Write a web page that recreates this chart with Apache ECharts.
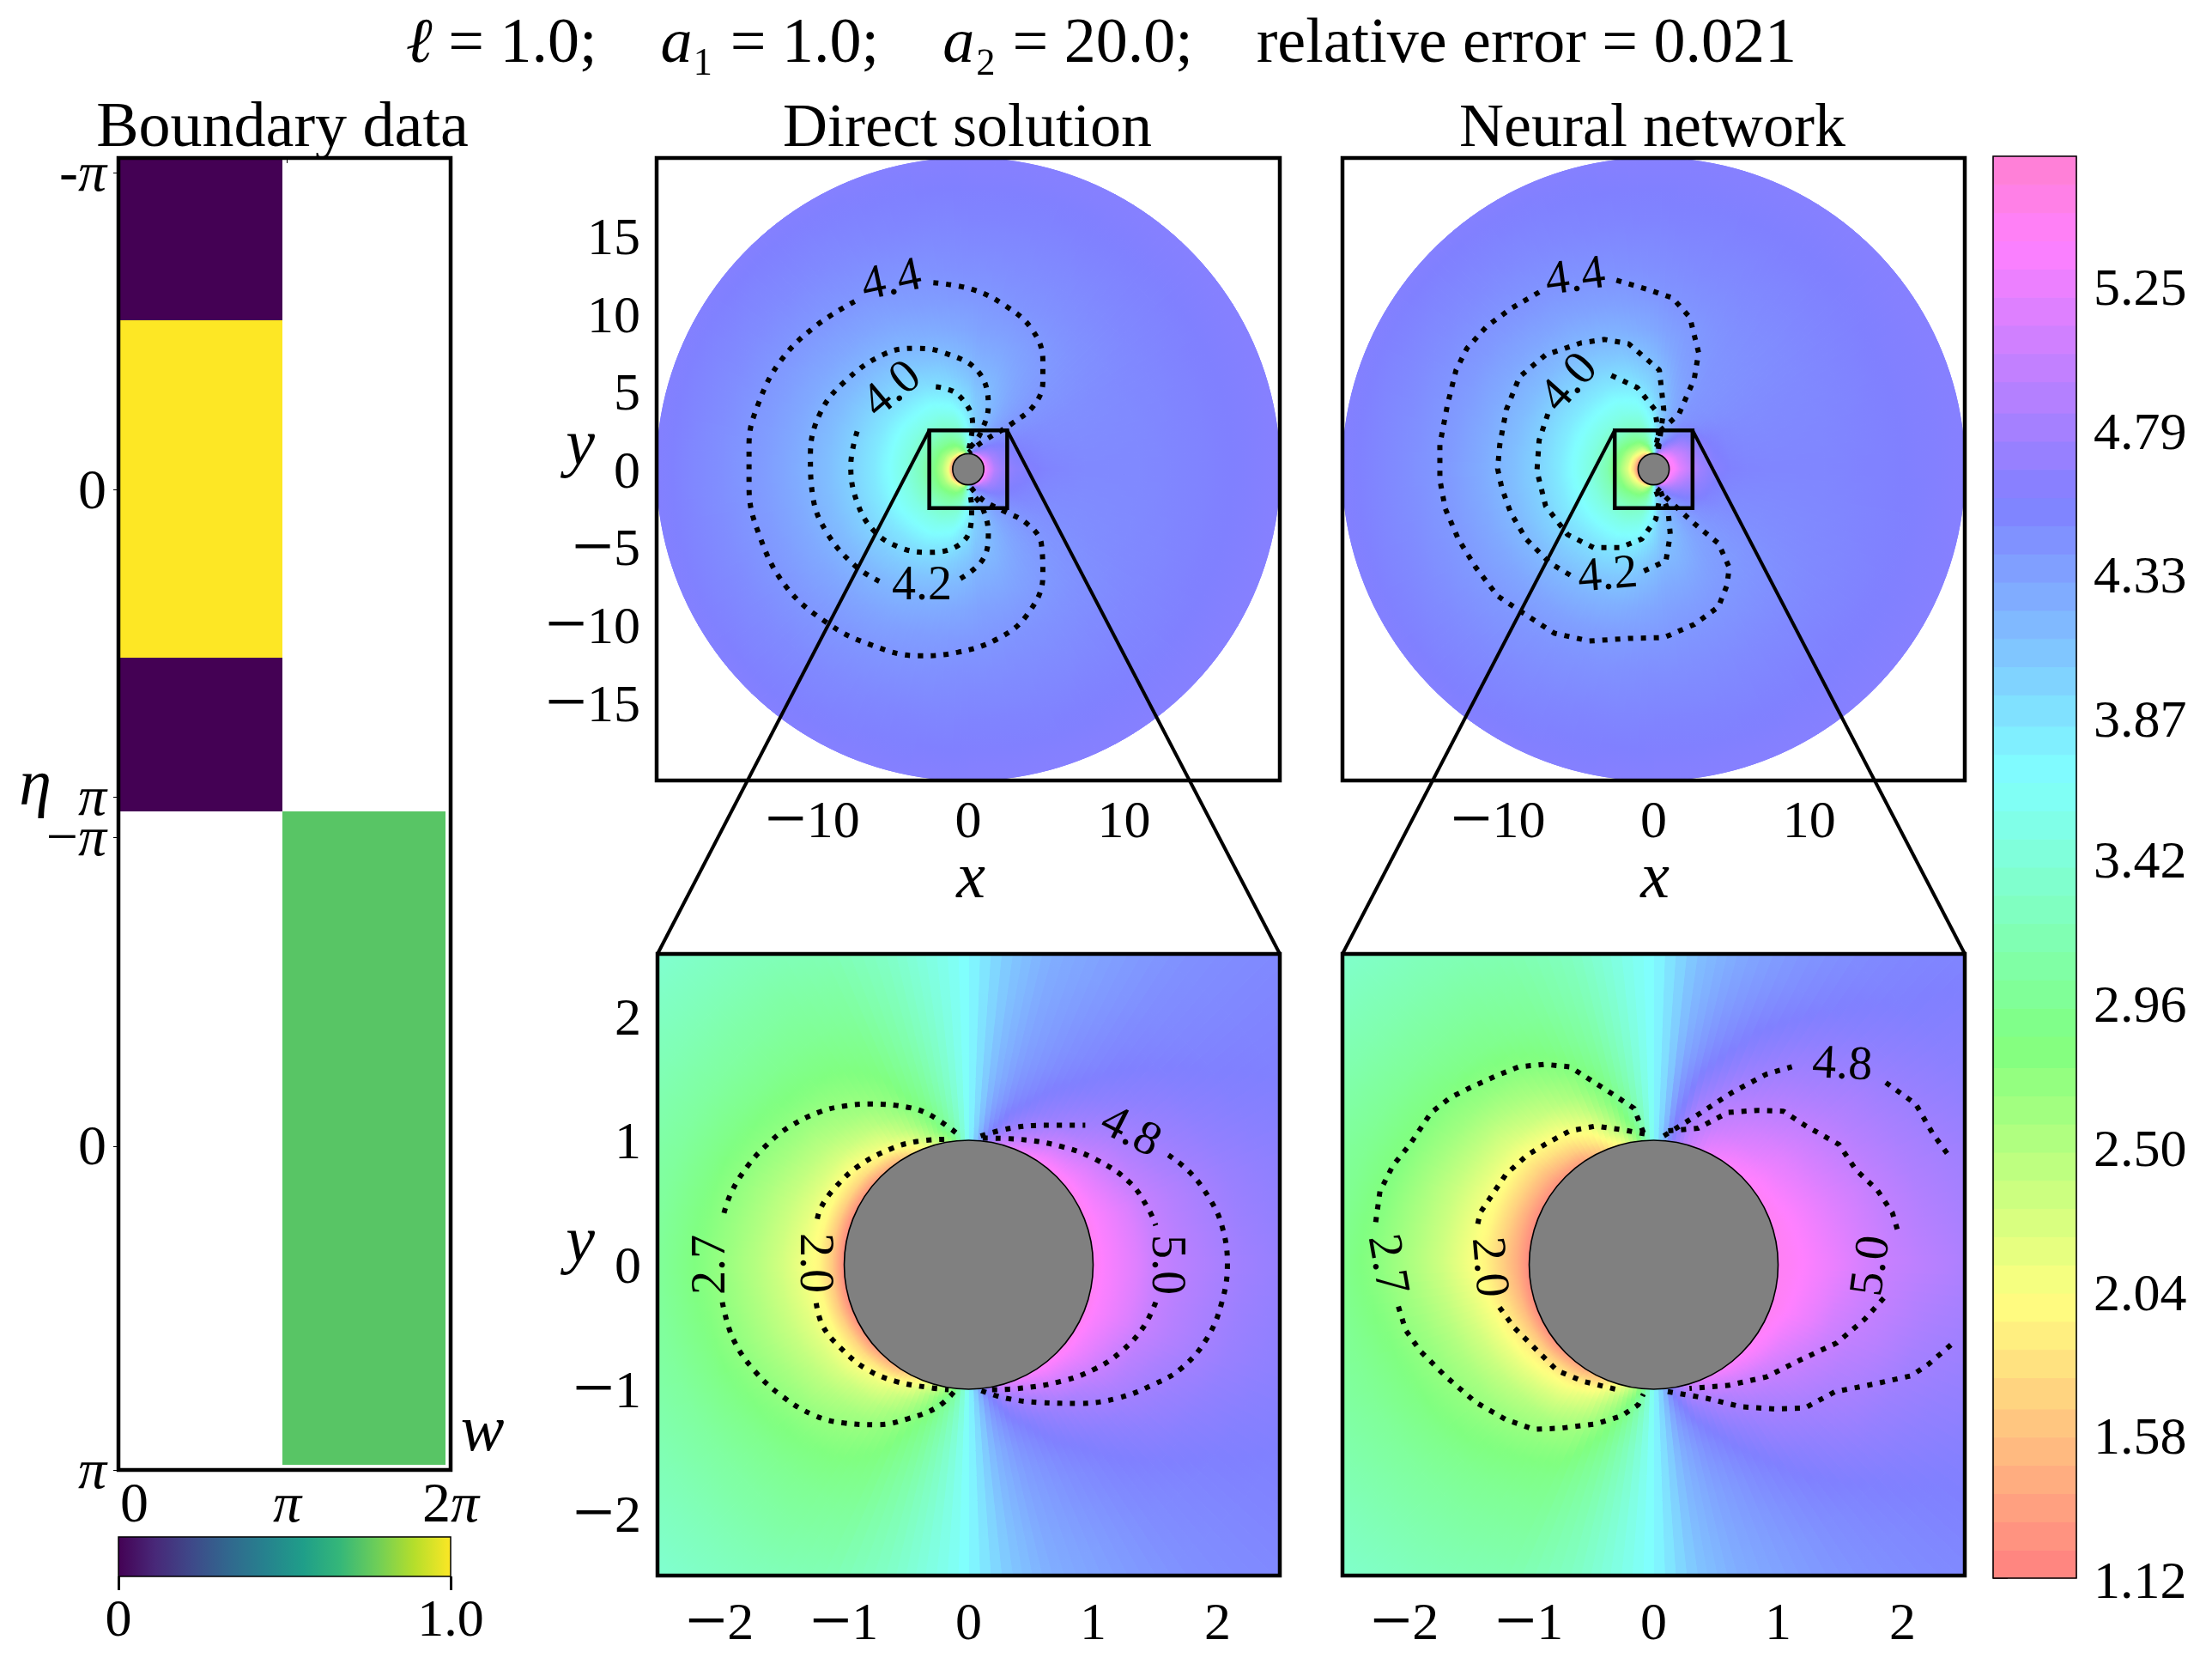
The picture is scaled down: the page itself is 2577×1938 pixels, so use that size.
<!DOCTYPE html>
<html>
<head>
<meta charset="utf-8">
<style>html,body{margin:0;padding:0;background:#fff}#main{width:2577px;height:1938px}</style>
<script src="https://cdn.jsdelivr.net/npm/echarts@6/dist/echarts.min.js"></script>
</head>
<body>
<div id="main"></div>
<script>
'use strict';
const FONT = '"Liberation Serif"';

// colour maps
const fieldStopValues = [1.12, 1.57, 2.01, 2.42, 2.83, 3.25, 3.68, 4.12, 4.56, 4.97, 5.38, 5.66];
const fieldStopColors = ['#ff8080', '#ffc080', '#ffff80', '#c0ff80', '#80ff80', '#80ffc0', '#80ffff', '#80c0ff', '#8080ff', '#c080ff', '#ff80ff', '#ff80d0'];
const viridisStops = ['#440154', '#482878', '#3e4989', '#31688e', '#26828e', '#1f9e89', '#35b779', '#6ece58', '#b5de2b', '#fde725'];

// colourbar
const cbarLevels = [1.12, 1.21, 1.30, 1.39, 1.48, 1.57, 1.66, 1.76, 1.85, 1.94, 2.03, 2.12, 2.21, 2.30, 2.39, 2.48, 2.57, 2.66, 2.75, 2.85, 2.94, 3.03, 3.12, 3.21, 3.30, 3.39, 3.48, 3.57, 3.66, 3.75, 3.84, 3.94, 4.03, 4.12, 4.21, 4.30, 4.39, 4.48, 4.57, 4.66, 4.75, 4.84, 4.94, 5.03, 5.12, 5.21, 5.30, 5.39, 5.48, 5.57, 5.66];
const cbarTicks = [1.12, 1.58, 2.04, 2.50, 2.96, 3.42, 3.87, 4.33, 4.79, 5.25];

// boundary image: [column from, column to, row from, row to, value]
const boundaryBlocks = [
  [0, 191, 0, 189, 0],
  [0, 191, 189, 582, 1],
  [0, 191, 582, 761, 0],
  [191, 381, 761, 1522, 0.735]
];
const boundaryXTicks = [18.6, 196.5, 387];
const boundaryXLabels = ['0', 'π', '2π'];
const boundaryYTicks = [17, 386.5, 744, 791, 1151, 1528];
const boundaryYLabels = ['-π', '0', 'π', '−π', '0', 'π'];

const diskTicksY = [-15, -10, -5, 0, 5, 10, 15];
const diskTicksX = [-10, 0, 10];
const zoomTicks = [-2, -1, 0, 1, 2];

// polar samples, one row per angle, one value per ring
const zoomRings = [1, 1.1, 1.2, 1.35, 1.5, 1.7, 1.9, 2.2, 2.5, 2.9, 3.6];
const zoomAngles = [0, 20, 40, 55, 65, 75, 82, 86, 90, 94, 98, 105, 115, 125, 140, 160, 180];
const directZoomField = [
  [5.45, 5.35, 5.28, 5.17, 5.02, 4.93, 4.86, 4.76, 4.70, 4.65, 4.60],
  [5.45, 5.35, 5.27, 5.15, 5.00, 4.90, 4.82, 4.72, 4.66, 4.60, 4.57],
  [5.45, 5.30, 5.18, 5.00, 4.88, 4.76, 4.68, 4.60, 4.55, 4.53, 4.52],
  [5.40, 5.20, 5.00, 4.80, 4.70, 4.60, 4.55, 4.50, 4.47, 4.45, 4.45],
  [5.30, 5.00, 4.82, 4.66, 4.58, 4.50, 4.45, 4.40, 4.36, 4.34, 4.34],
  [5.10, 4.78, 4.62, 4.50, 4.42, 4.36, 4.32, 4.28, 4.25, 4.22, 4.20],
  [4.70, 4.45, 4.36, 4.28, 4.22, 4.17, 4.14, 4.10, 4.08, 4.07, 4.07],
  [4.20, 4.10, 4.05, 4.00, 3.98, 3.96, 3.94, 3.92, 3.92, 3.92, 3.96],
  [3.70, 3.70, 3.70, 3.70, 3.70, 3.70, 3.70, 3.70, 3.70, 3.74, 3.90],
  [3.20, 3.30, 3.35, 3.42, 3.46, 3.50, 3.52, 3.55, 3.57, 3.62, 3.75],
  [2.70, 3.00, 3.12, 3.20, 3.26, 3.32, 3.36, 3.42, 3.47, 3.52, 3.68],
  [2.30, 2.65, 2.80, 2.93, 3.00, 3.08, 3.15, 3.22, 3.28, 3.37, 3.55],
  [1.85, 2.20, 2.45, 2.66, 2.76, 2.85, 2.92, 3.02, 3.10, 3.22, 3.42],
  [1.50, 1.95, 2.20, 2.45, 2.62, 2.74, 2.84, 2.96, 3.05, 3.18, 3.38],
  [1.30, 1.75, 2.02, 2.28, 2.46, 2.64, 2.78, 2.93, 3.05, 3.18, 3.38],
  [1.20, 1.65, 1.98, 2.20, 2.36, 2.53, 2.68, 2.87, 3.02, 3.16, 3.35],
  [1.20, 1.65, 1.95, 2.13, 2.30, 2.48, 2.63, 2.83, 3.00, 3.15, 3.35]
];
const neuralZoomUpper = [
  [5.45, 5.42, 5.38, 5.30, 5.22, 5.10, 5.01, 4.93, 4.85, 4.75, 4.65],
  [5.45, 5.40, 5.35, 5.26, 5.17, 5.07, 4.97, 4.86, 4.79, 4.70, 4.62],
  [5.42, 5.35, 5.27, 5.18, 5.08, 4.97, 4.88, 4.78, 4.68, 4.60, 4.55],
  [5.35, 5.25, 5.15, 5.05, 4.95, 4.85, 4.76, 4.65, 4.56, 4.50, 4.47],
  [5.25, 5.15, 5.05, 4.95, 4.85, 4.73, 4.63, 4.52, 4.44, 4.38, 4.36],
  [5.00, 4.95, 4.85, 4.75, 4.65, 4.52, 4.44, 4.35, 4.28, 4.24, 4.20],
  [4.60, 4.55, 4.50, 4.42, 4.36, 4.28, 4.22, 4.16, 4.12, 4.10, 4.10],
  [4.10, 4.10, 4.05, 4.02, 4.00, 3.98, 3.96, 3.94, 3.93, 3.93, 3.98],
  [3.70, 3.70, 3.70, 3.70, 3.70, 3.70, 3.70, 3.70, 3.70, 3.74, 3.90],
  [3.10, 3.22, 3.30, 3.38, 3.44, 3.48, 3.52, 3.56, 3.58, 3.63, 3.75],
  [2.60, 2.85, 3.00, 3.12, 3.20, 3.28, 3.34, 3.40, 3.45, 3.52, 3.66],
  [2.05, 2.38, 2.58, 2.78, 2.90, 3.00, 3.08, 3.17, 3.24, 3.34, 3.52],
  [1.65, 1.90, 2.10, 2.37, 2.58, 2.76, 2.88, 3.00, 3.08, 3.20, 3.40],
  [1.35, 1.65, 1.88, 2.15, 2.40, 2.60, 2.76, 2.93, 3.03, 3.16, 3.36],
  [1.25, 1.50, 1.72, 2.00, 2.22, 2.45, 2.65, 2.86, 3.00, 3.14, 3.34],
  [1.20, 1.45, 1.68, 1.97, 2.14, 2.36, 2.54, 2.80, 2.95, 3.10, 3.30],
  [1.20, 1.45, 1.65, 1.93, 2.10, 2.32, 2.50, 2.74, 2.92, 3.08, 3.28]
];
const neuralZoomLower = [
  [5.45, 5.42, 5.38, 5.30, 5.22, 5.10, 5.01, 4.93, 4.85, 4.75, 4.65],
  [5.45, 5.40, 5.33, 5.22, 5.08, 4.98, 4.92, 4.80, 4.74, 4.67, 4.60],
  [5.42, 5.30, 5.15, 5.00, 4.92, 4.82, 4.76, 4.67, 4.60, 4.55, 4.52],
  [5.35, 5.15, 4.98, 4.85, 4.76, 4.68, 4.60, 4.53, 4.48, 4.45, 4.44],
  [5.25, 5.00, 4.85, 4.72, 4.62, 4.53, 4.47, 4.41, 4.37, 4.35, 4.34],
  [5.00, 4.80, 4.66, 4.52, 4.44, 4.37, 4.32, 4.28, 4.25, 4.22, 4.20],
  [4.60, 4.48, 4.38, 4.30, 4.24, 4.19, 4.16, 4.12, 4.09, 4.08, 4.08],
  [4.10, 4.08, 4.04, 4.00, 3.98, 3.96, 3.94, 3.92, 3.92, 3.92, 3.95],
  [3.70, 3.70, 3.70, 3.70, 3.70, 3.70, 3.70, 3.70, 3.70, 3.74, 3.90],
  [3.10, 3.25, 3.32, 3.40, 3.45, 3.50, 3.53, 3.56, 3.58, 3.63, 3.75],
  [2.60, 2.90, 3.05, 3.16, 3.24, 3.30, 3.36, 3.42, 3.46, 3.52, 3.66],
  [2.10, 2.45, 2.65, 2.84, 2.95, 3.05, 3.12, 3.20, 3.26, 3.35, 3.52],
  [1.65, 2.00, 2.25, 2.50, 2.66, 2.80, 2.90, 3.00, 3.08, 3.20, 3.40],
  [1.40, 1.80, 2.05, 2.32, 2.55, 2.72, 2.84, 2.96, 3.05, 3.16, 3.36],
  [1.25, 1.65, 1.95, 2.20, 2.42, 2.62, 2.75, 2.90, 3.02, 3.14, 3.34],
  [1.20, 1.55, 1.80, 2.08, 2.28, 2.50, 2.66, 2.84, 2.97, 3.10, 3.30],
  [1.20, 1.45, 1.65, 1.93, 2.10, 2.32, 2.50, 2.74, 2.92, 3.08, 3.28]
];

const diskRings = [1, 1.3, 1.7, 2.2, 3, 4, 5, 6, 7.5, 9, 11, 13, 16, 20];
const diskAngles = [0, 30, 45, 60, 75, 85, 90, 95, 105, 120, 150, 180];
const directDiskField = [
  [5.45, 5.20, 4.90, 4.74, 4.63, 4.58, 4.54, 4.52, 4.50, 4.50, 4.50, 4.52, 4.55, 4.60],
  [5.45, 5.10, 4.80, 4.66, 4.55, 4.50, 4.47, 4.46, 4.46, 4.47, 4.49, 4.51, 4.55, 4.60],
  [5.42, 4.95, 4.70, 4.56, 4.46, 4.41, 4.40, 4.40, 4.41, 4.43, 4.46, 4.50, 4.54, 4.60],
  [5.35, 4.75, 4.50, 4.38, 4.30, 4.28, 4.29, 4.31, 4.34, 4.38, 4.44, 4.48, 4.54, 4.60],
  [5.00, 4.45, 4.30, 4.20, 4.12, 4.12, 4.15, 4.19, 4.27, 4.34, 4.42, 4.47, 4.53, 4.60],
  [4.20, 4.02, 3.98, 3.97, 3.99, 4.03, 4.09, 4.17, 4.25, 4.33, 4.40, 4.46, 4.53, 4.60],
  [3.70, 3.70, 3.70, 3.72, 3.78, 3.90, 4.00, 4.10, 4.21, 4.30, 4.39, 4.46, 4.53, 4.60],
  [3.20, 3.35, 3.45, 3.55, 3.67, 3.82, 3.95, 4.06, 4.18, 4.28, 4.38, 4.45, 4.52, 4.60],
  [2.30, 2.85, 3.05, 3.24, 3.44, 3.65, 3.83, 3.97, 4.13, 4.25, 4.36, 4.43, 4.52, 4.59],
  [1.70, 2.45, 2.80, 3.05, 3.32, 3.55, 3.73, 3.90, 4.07, 4.20, 4.32, 4.41, 4.50, 4.59],
  [1.25, 2.15, 2.58, 2.90, 3.24, 3.50, 3.68, 3.84, 4.01, 4.15, 4.28, 4.37, 4.48, 4.58],
  [1.20, 2.10, 2.53, 2.88, 3.22, 3.48, 3.67, 3.83, 4.00, 4.13, 4.26, 4.36, 4.46, 4.58]
];
const neuralDiskUpper = [
  [5.45, 5.40, 5.20, 5.03, 4.75, 4.60, 4.55, 4.53, 4.52, 4.52, 4.52, 4.54, 4.56, 4.60],
  [5.45, 5.35, 5.10, 4.95, 4.68, 4.55, 4.50, 4.48, 4.48, 4.49, 4.50, 4.52, 4.56, 4.60],
  [5.42, 5.25, 5.00, 4.80, 4.58, 4.47, 4.44, 4.44, 4.45, 4.46, 4.48, 4.51, 4.55, 4.60],
  [5.35, 5.05, 4.75, 4.55, 4.45, 4.41, 4.41, 4.41, 4.42, 4.44, 4.47, 4.50, 4.55, 4.60],
  [5.00, 4.70, 4.42, 4.30, 4.22, 4.22, 4.26, 4.30, 4.35, 4.38, 4.44, 4.49, 4.54, 4.60],
  [4.20, 4.05, 3.98, 3.97, 3.99, 4.03, 4.09, 4.15, 4.25, 4.33, 4.42, 4.47, 4.54, 4.60],
  [3.70, 3.70, 3.70, 3.72, 3.78, 3.88, 3.98, 4.05, 4.18, 4.29, 4.39, 4.46, 4.53, 4.60],
  [3.10, 3.30, 3.42, 3.52, 3.65, 3.78, 3.90, 4.00, 4.14, 4.26, 4.37, 4.45, 4.53, 4.60],
  [2.05, 2.65, 2.98, 3.18, 3.40, 3.60, 3.76, 3.90, 4.07, 4.21, 4.34, 4.43, 4.52, 4.59],
  [1.50, 2.10, 2.60, 2.98, 3.30, 3.52, 3.68, 3.84, 4.02, 4.17, 4.31, 4.41, 4.50, 4.59],
  [1.25, 1.80, 2.35, 2.75, 3.20, 3.48, 3.66, 3.82, 4.00, 4.15, 4.28, 4.38, 4.48, 4.58],
  [1.20, 1.75, 2.25, 2.68, 3.15, 3.46, 3.65, 3.82, 4.00, 4.13, 4.26, 4.37, 4.47, 4.58]
];
const neuralDiskLower = [
  [5.45, 5.40, 5.20, 5.03, 4.75, 4.60, 4.55, 4.53, 4.52, 4.52, 4.52, 4.54, 4.56, 4.60],
  [5.45, 5.20, 4.95, 4.78, 4.62, 4.52, 4.47, 4.46, 4.46, 4.47, 4.49, 4.51, 4.55, 4.60],
  [5.42, 5.05, 4.80, 4.62, 4.50, 4.43, 4.40, 4.39, 4.40, 4.42, 4.46, 4.50, 4.55, 4.60],
  [5.35, 4.85, 4.60, 4.45, 4.33, 4.30, 4.30, 4.32, 4.35, 4.39, 4.44, 4.49, 4.54, 4.60],
  [5.00, 4.50, 4.35, 4.24, 4.15, 4.13, 4.16, 4.20, 4.28, 4.35, 4.42, 4.47, 4.53, 4.60],
  [4.20, 4.03, 3.98, 3.97, 3.99, 4.04, 4.10, 4.17, 4.26, 4.33, 4.40, 4.46, 4.53, 4.60],
  [3.70, 3.70, 3.70, 3.72, 3.78, 3.90, 4.00, 4.10, 4.21, 4.30, 4.39, 4.46, 4.53, 4.60],
  [3.10, 3.33, 3.45, 3.55, 3.67, 3.80, 3.93, 4.05, 4.18, 4.28, 4.38, 4.45, 4.52, 4.60],
  [2.10, 2.75, 3.02, 3.22, 3.42, 3.62, 3.80, 3.94, 4.10, 4.23, 4.36, 4.43, 4.52, 4.59],
  [1.55, 2.30, 2.72, 3.02, 3.30, 3.53, 3.72, 3.88, 4.05, 4.19, 4.33, 4.42, 4.50, 4.59],
  [1.25, 2.00, 2.45, 2.82, 3.20, 3.48, 3.68, 3.83, 4.00, 4.15, 4.29, 4.38, 4.48, 4.58],
  [1.20, 1.75, 2.25, 2.68, 3.15, 3.46, 3.65, 3.82, 4.00, 4.13, 4.26, 4.37, 4.47, 4.58]
];

// dotted contours, split where the inline label sits
const directDiskContours = [
  [[-2.24, 11.99], [.28, 11.55], [2.33, 10.54], [4.07, 9.02], [4.79, 6.99], [4.79, 5.64], [4.23, 4.12], [2.81, 2.94], [.91, 1.76], [.03, 1.08]],
  [[-7.29, 10.78], [-9.81, 9.19], [-12.02, 6.99], [-13.44, 4.29], [-14.07, 1.59], [-14.07, -1.11], [-13.44, -4.16], [-11.7, -7.53], [-9.02, -9.9], [-6.34, -11.25], [-3.19, -11.99], [-.66, -11.76], [1.86, -10.91], [3.75, -9.39], [4.79, -6.86], [4.7, -4.83], [3.75, -3.48], [2.18, -2.64], [.91, -1.96], [.13, -1.11]],
  [[.13, 1.42], [.76, 2.26], [1.29, 4.12], [.6, 6.32], [-1.61, 7.5], [-3.34, 7.77], [-5.39, 7.4], [-7.92, 5.64], [-9.5, 3.61], [-10.13, .91], [-9.97, -1.79], [-9.02, -4.16], [-7.29, -6.18], [-5.71, -7.2]],
  [[-.5, -7.03], [.91, -5.84], [1.29, -4.16], [.91, -2.47], [.28, -1.62]],
  [[-2.08, 5.3], [-.66, 4.8], [.28, 2.94], [.03, 1.25]],
  [[-7.13, 2.43], [-7.54, .24], [-7.13, -2.13], [-6.03, -3.99], [-4.45, -5], [-2.71, -5.34], [-.82, -5], [.13, -3.82], [.22, -2.47], [.06, -1.28]]
];
const neuralDiskContours = [
  [[-2.39, 12.14], [-.48, 11.58], [1.21, 11.01], [2.33, 9.75], [2.89, 7.49], [2.61, 5.8], [1.63, 3.55], [.37, 2.42], [.08, 1.3]],
  [[-7.36, 11.38], [-9.19, 10.31], [-10.73, 9.18], [-12, 7.77], [-12.7, 6.37], [-13.26, 4.11], [-13.74, 1.58], [-13.74, -.68], [-13.4, -2.51], [-12.56, -4.48], [-11.43, -6.31], [-10.03, -8.14], [-8.34, -9.27], [-6.38, -10.54], [-4.13, -11.04], [-1.6, -10.87], [.65, -10.82], [2.61, -9.97], [4.16, -8.85], [4.72, -7.44], [4.86, -6.31], [4.16, -4.76], [2.61, -3.49], [1.07, -2.08], [.22, -1.24]],
  [[.31, 1.3], [.65, 3.83], [.37, 6.37], [-1.6, 8.06], [-3.15, 8.34], [-4.69, 8.11], [-6.94, 7.35], [-8.62, 5.94], [-9.47, 3.83], [-9.89, 1.58], [-10.03, .03], [-9.75, -1.24], [-9.19, -2.79], [-8.2, -4.48], [-6.66, -6.03], [-5.25, -6.87]],
  [[-.62, -6.54], [.79, -5.89], [1.07, -4.2], [.93, -2.65], [.37, -1.24]],
  [[-2.72, 6.03], [-1.04, 5.24], [.08, 3.83], [.37, 1.86], [0, 1.01]],
  [[-6.8, 3.55], [-7.36, 1.86], [-7.5, -.11], [-6.94, -2.37], [-5.53, -4.2], [-3.85, -5.04], [-2.16, -5.04], [-.76, -4.48], [.14, -3.21], [.37, -1.94], [.08, -1.24]]
];
const directZoomContours = [
  [[-.103, 1.063], [-.316, 1.208], [-.487, 1.266], [-.779, 1.293], [-1.002, 1.276], [-1.208, 1.225], [-1.448, 1.105], [-1.619, .967], [-1.774, .796], [-1.911, .573], [-1.979, .367]],
  [[-1.979, -.302], [-1.894, -.593], [-1.722, -.851], [-1.499, -1.057], [-1.242, -1.211], [-1.002, -1.273], [-.727, -1.286], [-.487, -1.238], [-.247, -1.142], [-.103, -1.005]],
  [[-.196, 1.009], [-.419, .991], [-.624, .933], [-.882, .796], [-1.07, .624], [-1.19, .453], [-1.225, .316]],
  [[-1.225, -.309], [-1.173, -.491], [-1.036, -.662], [-.83, -.834], [-.59, -.937], [-.316, -.988], [-.161, -1.005]],
  [[.096, 1.036], [.336, 1.098], [.611, 1.122], [.937, 1.122]],
  [[1.605, .882], [1.777, .744], [1.931, .539], [2.034, .316], [2.079, .007], [2.034, -.302], [1.914, -.593], [1.708, -.834], [1.468, -.971], [1.194, -1.074], [.885, -1.115], [.576, -1.108], [.302, -1.074], [.079, -1.005]],
  [[.113, 1.019], [.405, 1.009], [.748, .95], [1.022, .847], [1.297, .659], [1.451, .436], [1.503, .316]],
  [[1.503, -.302], [1.4, -.508], [1.228, -.696], [1.022, -.834], [.748, -.937], [.405, -.995], [.165, -1.005]]
];
const neuralZoomContours = [
  [[-.082, 1.063], [-.158, 1.259], [-.329, 1.372], [-.501, 1.482], [-.672, 1.592], [-.878, 1.612], [-1.084, 1.592], [-1.256, 1.523], [-1.461, 1.431], [-1.633, 1.345], [-1.787, 1.225], [-1.959, .967], [-2.096, .796], [-2.199, .59], [-2.233, .343]],
  [[-2.051, -.336], [-1.993, -.525], [-1.873, -.696], [-1.667, -.902], [-1.427, -1.108], [-1.187, -1.245], [-.964, -1.324], [-.741, -1.314], [-.467, -1.28], [-.261, -1.218], [-.123, -1.125], [-.082, -1.04]],
  [[-.072, 1.053], [-.261, 1.087], [-.467, 1.115], [-.672, 1.077], [-.844, .985], [-1.015, .882], [-1.187, .727], [-1.29, .573], [-1.393, .419], [-1.42, .298]],
  [[-1.238, -.343], [-1.118, -.508], [-.964, -.662], [-.775, -.851], [-.569, -.937], [-.261, -1.012]],
  [[.082, 1.036], [.357, 1.208], [.631, 1.386], [.906, 1.533], [1.111, 1.592]],
  [[1.866, 1.465], [2.106, 1.293], [2.244, 1.053], [2.381, .864]],
  [[2.388, -.645], [2.209, -.799], [2.072, -.892], [1.798, -.954], [1.455, -1.022], [1.214, -1.153], [.974, -1.16], [.7, -1.142], [.425, -1.074], [.082, -1.015]],
  [[.117, 1.077], [.357, 1.098], [.597, 1.225], [.837, 1.242], [1.043, 1.235], [1.214, 1.122], [1.489, .967], [1.626, .762], [1.798, .6], [1.918, .419], [1.969, .247]],
  [[1.849, -.268], [1.695, -.439], [1.472, -.628], [1.18, -.765], [.906, -.902], [.597, -.971], [.288, -.995]]
];

// inline labels: [x, y, text, rotation in degrees]
const directDiskLabels = [[-4.92, 12.06, '4.4', 12], [-4.86, 5.07, '4.0', 40], [-2.97, -7.53, '4.2', 0]];
const neuralDiskLabels = [[-5.03, 12.28, '4.4', 8], [-5.39, 5.52, '4.0', 48], [-2.95, -6.87, '4.2', 5]];
const directZoomLabels = [[-2.065, 0, '2.7', 90], [-1.249, .014, '2.0', -90], [1.581, 0, '5.0', -90], [1.297, 1.063, '4.8', -27]];
const neuralZoomLabels = [[-2.148, 0, '2.7', -80], [-1.331, -.02, '2.0', -85], [1.756, -.01, '5.0', 82], [1.516, 1.602, '4.8', -3]];

function fieldColor(v) {
  const s = fieldStopValues;
  if (v <= s[0]) return fieldStopColors[0];
  for (let i = 1; i < s.length; i++) {
    if (v <= s[i]) {
      return echarts.color.lerp((v - s[i - 1]) / (s[i] - s[i - 1]), [fieldStopColors[i - 1], fieldStopColors[i]]);
    }
  }
  return fieldStopColors[s.length - 1];
}

function fieldCells(table, angles, rings, sign) {
  const cells = [];
  for (let i = 0; i < angles.length - 1; i++) {
    for (let j = 0; j < rings.length - 1; j++) {
      cells.push([
        sign * angles[i], sign * angles[i + 1], rings[j], rings[j + 1],
        table[i][j], table[i][j + 1], table[i + 1][j], table[i + 1][j + 1]
      ]);
    }
  }
  return cells;
}

function polar(r, deg) {
  const t = deg * Math.PI / 180;
  return [r * Math.cos(t), r * Math.sin(t)];
}

// one table cell, shaded between its four corner readings
function renderFieldCell(params, api) {
  const t0 = api.value(0), t1 = api.value(1), r0 = api.value(2), r1 = api.value(3);
  const v00 = api.value(4), v01 = api.value(5), v10 = api.value(6), v11 = api.value(7);
  const n = Math.max(1, Math.ceil(Math.abs(t1 - t0) / 2));
  const c = api.coord([0, 0]);
  const outer = api.size([r1, r1])[0];
  const inner = r0 / r1;
  const children = [];
  for (let k = 0; k < n; k++) {
    const ta = t0 + (t1 - t0) * k / n, tb = t0 + (t1 - t0) * (k + 1) / n;
    const u = (k + 0.5) / n;
    const vIn = v00 + (v10 - v00) * u, vOut = v01 + (v11 - v01) * u;
    const stops = [0, 0.25, 0.5, 0.75, 1].map((o) => ({offset: inner + (1 - inner) * o, color: fieldColor(vIn + (vOut - vIn) * o)}));
    const fill = new echarts.graphic.RadialGradient(c[0], c[1], outer, stops, true);
    children.push({
      type: 'polygon',
      shape: {points: [api.coord(polar(r1, ta)), api.coord(polar(r1, tb)), api.coord(polar(r0, tb)), api.coord(polar(r0, ta))]},
      style: {fill: fill, stroke: fill, lineWidth: 1}
    });
  }
  return {type: 'group', children: children};
}

function fieldSeries(grid, cells) {
  return {type: 'custom', xAxisIndex: grid, yAxisIndex: grid, z: 1, clip: true, silent: true, renderItem: renderFieldCell, data: cells};
}

function contourSeries(grid, segments, smooth) {
  return segments.map((seg) => ({
    type: 'line', xAxisIndex: grid, yAxisIndex: grid, z: 3, data: seg, showSymbol: false, silent: true,
    smooth: smooth, clip: true,
    lineStyle: {color: '#000', width: 6, type: [6, 9], cap: 'butt'}
  }));
}

function labelSeries(grid, labels) {
  return {
    type: 'custom', xAxisIndex: grid, yAxisIndex: grid, z: 5, silent: true, data: labels.map((l) => [l[0], l[1]]),
    renderItem: (params, api) => {
      const p = api.coord([api.value(0), api.value(1)]);
      const l = labels[params.dataIndex];
      return {
        type: 'text', x: p[0], y: p[1], rotation: l[3] * Math.PI / 180,
        style: {text: l[2], fill: '#000', font: '56px ' + FONT, align: 'center', verticalAlign: 'middle'}
      };
    }
  };
}

function circleSeries(grid) {
  return {
    type: 'custom', xAxisIndex: grid, yAxisIndex: grid, z: 4, silent: true, data: [[0, 0]],
    renderItem: (params, api) => {
      const c = api.coord([0, 0]);
      const s = api.size([1, 1]);
      return {type: 'circle', shape: {cx: c[0], cy: c[1], r: s[0]}, style: {fill: '#808080', stroke: '#000', lineWidth: 1.6}};
    }
  };
}

function frameSeries(grid, x0, x1, y0, y1, width) {
  return {
    type: 'custom', xAxisIndex: grid, yAxisIndex: grid, z: 6, silent: true, data: [[x0, y0, x1, y1]],
    renderItem: (params, api) => {
      const a = api.coord([api.value(0), api.value(1)]);
      const b = api.coord([api.value(2), api.value(3)]);
      return {
        type: 'rect', shape: {x: Math.min(a[0], b[0]), y: Math.min(a[1], b[1]), width: Math.abs(b[0] - a[0]), height: Math.abs(b[1] - a[1])},
        style: {fill: 'none', stroke: '#000', lineWidth: width}
      };
    }
  };
}

const tickRich = {
  r: {fontFamily: FONT, fontSize: 62, lineHeight: 62, color: '#000'},
  m: {fontFamily: FONT, fontSize: 86, lineHeight: 62, color: '#000'}
};
const tickLabel = (v) => (v < 0 ? '{m|−}{r|' + (-v) + '}' : '{r|' + v + '}');

function valueAxis(extra) {
  return Object.assign({
    type: 'value', splitLine: {show: false}, axisLine: {show: false},
    axisTick: {show: true, length: 15, lineStyle: {color: '#000', width: 3}}
  }, extra);
}
function xAxisFor(grid, min, max, ticks, margin) {
  return valueAxis({
    gridIndex: grid, min: min, max: max,
    axisTick: {show: true, length: 15, lineStyle: {color: '#000', width: 3}, customValues: ticks},
    axisLabel: {rich: tickRich, formatter: tickLabel, margin: margin, customValues: ticks}
  });
}
function yAxisFor(grid, min, max, ticks, showLabels) {
  return valueAxis({
    gridIndex: grid, min: min, max: max,
    axisTick: {show: true, length: 15, lineStyle: {color: '#000', width: 3}, customValues: ticks},
    axisLabel: {rich: tickRich, formatter: tickLabel, show: showLabels, margin: 19, padding: [10, 0, 0, 0], customValues: ticks}
  });
}

function textTitle(text, x, y, size, italic) {
  return {
    text: text, left: x, top: y, textAlign: 'center', textVerticalAlign: 'middle',
    textStyle: {fontFamily: FONT, fontSize: size, fontWeight: 'normal', fontStyle: italic ? 'italic' : 'normal', color: '#000'}
  };
}

const boundaryRich = {r: {fontFamily: FONT, fontSize: 66, color: '#000'}, i: {fontFamily: FONT, fontSize: 66, fontStyle: 'italic', color: '#000'}};
const piLabel = (s) => s.replace(/([^π]*)(π?)/, (m, a, b) => (a ? '{r|' + a + '}' : '') + (b ? '{i|π}' : ''));

const option = {
  animation: false,
  backgroundColor: '#fff',
  title: [
    {
      text: '{i|ℓ}{r| = 1.0;    }{i|a}{r|₁ = 1.0;    }{i|a}{r|₂ = 20.0;    relative error = 0.021}',
      left: 1278, top: 48, textAlign: 'center', textVerticalAlign: 'middle',
      textStyle: {rich: {
        r: {fontFamily: FONT, fontSize: 74, fontWeight: 'normal', color: '#000'},
        i: {fontFamily: FONT, fontSize: 74, fontWeight: 'normal', fontStyle: 'italic', color: '#000'}
      }}
    },
    textTitle('Boundary data', 324, 146, 74),
    textTitle('Direct solution', 1122, 146, 72),
    textTitle('Neural network', 1920, 146, 72),
    textTitle('η', 36, 912, 76, true),
    textTitle('w', 557, 1664, 76, true),
    textTitle('y', 671, 516, 76, true),
    textTitle('y', 671, 1444, 76, true),
    textTitle('x', 1126, 1020, 76, true),
    textTitle('x', 1923, 1020, 76, true)
  ],
  grid: [
    {left: 138, top: 184, width: 387, height: 1528, outerBoundsMode: 'none'},
    {left: 765, top: 184, width: 726, height: 725, outerBoundsMode: 'none'},
    {left: 1564, top: 184, width: 725, height: 725, outerBoundsMode: 'none'},
    {left: 766, top: 1111, width: 725, height: 724, outerBoundsMode: 'none'},
    {left: 1564, top: 1111, width: 725, height: 724, outerBoundsMode: 'none'},
    {left: 138, top: 1790, width: 387, height: 46, outerBoundsMode: 'none'},
    {left: 2322, top: 182, width: 97, height: 1656, outerBoundsMode: 'none'}
  ],
  xAxis: [
    valueAxis({
      gridIndex: 0, min: 0, max: 387,
      axisTick: {show: true, length: 6, lineStyle: {color: '#000', width: 1}, customValues: boundaryXTicks},
      axisLabel: {customValues: boundaryXTicks, margin: 10, rich: boundaryRich, formatter: (v) => piLabel(boundaryXLabels[boundaryXTicks.indexOf(v)])}
    }),
    xAxisFor(1, -20, 20, diskTicksX, 19),
    xAxisFor(2, -20, 20, diskTicksX, 19),
    xAxisFor(3, -2.5, 2.5, zoomTicks, 27),
    xAxisFor(4, -2.5, 2.5, zoomTicks, 27),
    valueAxis({
      gridIndex: 5, min: 0, max: 1,
      axisTick: {show: true, length: 16, lineStyle: {color: '#000', width: 3}, customValues: [0, 1]},
      axisLabel: {customValues: [0, 1], margin: 22, fontFamily: FONT, fontSize: 62, color: '#000', formatter: (v) => (v === 1 ? '1.0' : '0')}
    }),
    valueAxis({gridIndex: 6, min: 0, max: 1, axisTick: {show: false}, axisLabel: {show: false}})
  ],
  yAxis: [
    valueAxis({
      gridIndex: 0, min: 0, max: 1528, inverse: true,
      axisTick: {show: true, length: 6, lineStyle: {color: '#000', width: 1}, customValues: boundaryYTicks},
      axisLabel: {customValues: boundaryYTicks, margin: 14, padding: [8, 0, 0, 0], rich: boundaryRich, formatter: (v) => piLabel(boundaryYLabels[boundaryYTicks.indexOf(v)])}
    }),
    yAxisFor(1, -20, 20, diskTicksY, true),
    yAxisFor(2, -20, 20, diskTicksY, false),
    yAxisFor(3, -2.5, 2.5, zoomTicks, true),
    yAxisFor(4, -2.5, 2.5, zoomTicks, false),
    valueAxis({gridIndex: 5, min: 0, max: 1, axisTick: {show: false}, axisLabel: {show: false}}),
    valueAxis({
      gridIndex: 6, min: 1.12, max: 5.66, position: 'right',
      axisTick: {show: true, length: 17, lineStyle: {color: '#000', width: 2}, customValues: cbarTicks},
      axisLabel: {customValues: cbarTicks, margin: 20, padding: [14, 0, 0, 0], rich: tickRich, formatter: (v) => '{r|' + v.toFixed(2) + '}'}
    })
  ],
  series: [
    // boundary image
    {
      type: 'custom', xAxisIndex: 0, yAxisIndex: 0, z: 1, silent: true, data: boundaryBlocks,
      renderItem: (params, api) => {
        const a = api.coord([api.value(0), api.value(2)]);
        const b = api.coord([api.value(1), api.value(3)]);
        const c = echarts.color.lerp(api.value(4), viridisStops);
        return {type: 'rect', shape: {x: a[0], y: a[1], width: b[0] - a[0], height: b[1] - a[1]}, style: {fill: c}};
      }
    },
    frameSeries(0, 0, 387, 0, 1528, 4.5),
    // boundary colourbar
    {
      type: 'custom', xAxisIndex: 5, yAxisIndex: 5, z: 1, silent: true, data: [[0, 1]],
      renderItem: (params, api) => {
        const a = api.coord([0, 1]);
        const b = api.coord([1, 0]);
        const stops = viridisStops.map((c, i) => ({offset: i / (viridisStops.length - 1), color: c}));
        return {
          type: 'rect', shape: {x: a[0], y: a[1], width: b[0] - a[0], height: b[1] - a[1]},
          style: {fill: new echarts.graphic.LinearGradient(0, 0, 1, 0, stops), stroke: '#000', lineWidth: 1.5}
        };
      }
    },
    // field colourbar
    {
      type: 'custom', xAxisIndex: 6, yAxisIndex: 6, z: 1, silent: true,
      data: cbarLevels.slice(0, -1).map((v, i) => [v, cbarLevels[i + 1]]),
      renderItem: (params, api) => {
        const a = api.coord([0, api.value(1)]);
        const b = api.coord([1, api.value(0)]);
        const c = fieldColor((api.value(0) + api.value(1)) / 2);
        return {type: 'rect', shape: {x: a[0], y: a[1], width: b[0] - a[0], height: b[1] - a[1]}, style: {fill: c, stroke: c, lineWidth: 1}};
      }
    },
    frameSeries(6, 0, 1, 1.12, 5.66, 1.6),
    // direct solution
    fieldSeries(1, fieldCells(directDiskField, diskAngles, diskRings, 1)),
    fieldSeries(1, fieldCells(directDiskField, diskAngles, diskRings, -1)),
    ...contourSeries(1, directDiskContours, 0.4),
    circleSeries(1),
    labelSeries(1, directDiskLabels),
    frameSeries(1, -20, 20, -20, 20, 4.5),
    frameSeries(1, -2.5, 2.5, -2.5, 2.5, 4.5),
    fieldSeries(3, fieldCells(directZoomField, zoomAngles, zoomRings, 1)),
    fieldSeries(3, fieldCells(directZoomField, zoomAngles, zoomRings, -1)),
    ...contourSeries(3, directZoomContours, 0.4),
    circleSeries(3),
    labelSeries(3, directZoomLabels),
    frameSeries(3, -2.5, 2.5, -2.5, 2.5, 4.5),
    // neural network
    fieldSeries(2, fieldCells(neuralDiskUpper, diskAngles, diskRings, 1)),
    fieldSeries(2, fieldCells(neuralDiskLower, diskAngles, diskRings, -1)),
    ...contourSeries(2, neuralDiskContours, 0),
    circleSeries(2),
    labelSeries(2, neuralDiskLabels),
    frameSeries(2, -20, 20, -20, 20, 4.5),
    frameSeries(2, -2.5, 2.5, -2.5, 2.5, 4.5),
    fieldSeries(4, fieldCells(neuralZoomUpper, zoomAngles, zoomRings, 1)),
    fieldSeries(4, fieldCells(neuralZoomLower, zoomAngles, zoomRings, -1)),
    ...contourSeries(4, neuralZoomContours, 0),
    circleSeries(4),
    labelSeries(4, neuralZoomLabels),
    frameSeries(4, -2.5, 2.5, -2.5, 2.5, 4.5)
  ]
};

const chart = echarts.init(document.getElementById('main'), null, {renderer: 'canvas'});
chart.setOption(option);

// connectors from the inset box down to the zoomed panel
const connectors = [[1, 3, -2.5], [1, 3, 2.5], [2, 4, -2.5], [2, 4, 2.5]];
chart.setOption({
  graphic: connectors.map((c) => {
    const a = chart.convertToPixel({gridIndex: c[0]}, [c[2], 2.5]);
    const b = chart.convertToPixel({gridIndex: c[1]}, [c[2], 2.5]);
    return {
      type: 'line', z: 100, silent: true,
      shape: {x1: a[0], y1: a[1], x2: b[0], y2: b[1]},
      style: {stroke: '#000', lineWidth: 4}
    };
  })
});
</script>
</body>
</html>
